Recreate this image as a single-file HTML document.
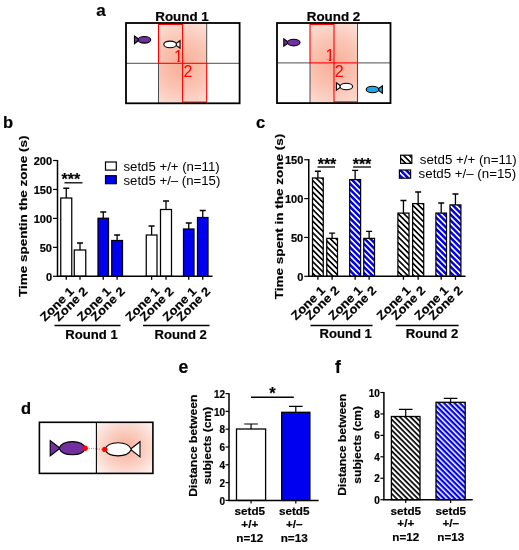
<!DOCTYPE html>
<html><head><meta charset="utf-8"><title>Figure</title>
<style>
html,body{margin:0;padding:0;background:#fff;}
svg{display:block;font-family:"Liberation Sans",Arial,sans-serif;}
.b{font-weight:bold;stroke:#000;stroke-width:0.2px;}
</style></head><body>
<svg width="519" height="550" viewBox="0 0 519 550">
<defs>
<radialGradient id="pink" cx="50%" cy="52%" r="60%" gradientTransform="translate(0.5,0.5) scale(1.66,1) translate(-0.5,-0.5)">
<stop offset="0" stop-color="#f8ad96"/><stop offset="0.5" stop-color="#fac3b2"/><stop offset="1" stop-color="#fde2da"/>
</radialGradient>
<radialGradient id="pinkd" cx="51%" cy="50%" r="68%">
<stop offset="0" stop-color="#f7ae98"/><stop offset="0.55" stop-color="#fbd2c6"/><stop offset="1" stop-color="#fef3ef"/>
</radialGradient>
<pattern id="hk" width="4.1" height="4.1" patternUnits="userSpaceOnUse" patternTransform="rotate(45)">
<rect width="4.1" height="4.1" fill="#fff"/><rect width="4.1" height="1.65" fill="#000"/>
</pattern>
<pattern id="hb" width="4.1" height="4.1" patternUnits="userSpaceOnUse" patternTransform="rotate(45)">
<rect width="4.1" height="4.1" fill="#fff"/><rect width="4.1" height="2.5" fill="#0000f5"/>
</pattern>
<pattern id="hk2" width="3.75" height="3.75" patternUnits="userSpaceOnUse" patternTransform="rotate(45)">
<rect width="3.75" height="3.75" fill="#fff"/><rect width="3.75" height="1.7" fill="#000"/>
</pattern>
<pattern id="hb2" width="3.75" height="3.75" patternUnits="userSpaceOnUse" patternTransform="rotate(45)">
<rect width="3.75" height="3.75" fill="#fff"/><rect width="3.75" height="2.25" fill="#0000f5"/>
</pattern>
<clipPath id="one"><path d="M-10,-14 H1 V-1.25 H-3.3 V1 H-5.4 V-1.25 H-10 Z"/></clipPath>
</defs>
<rect width="519" height="550" fill="#fff"/>

<text x="96.3" y="16.3" class="b" font-size="17">a</text>
<rect x="158.5" y="23" width="48.19999999999999" height="80.3" fill="url(#pink)"/>
<path d="M126,63.3 H158.5 M206.7,63.3 H239.6 M158.5,63.3 V103.3 M206.7,23 V63.3" stroke="#3a3a3a" stroke-width="0.9" fill="none"/>
<rect x="158.5" y="24.4" width="24.099999999999994" height="38.9" fill="none" stroke="#f00" stroke-width="1.1"/>
<rect x="182.6" y="63.3" width="24.099999999999994" height="38.8" fill="none" stroke="#f00" stroke-width="1.1"/>
<rect x="126" y="23" width="113.6" height="80.3" fill="none" stroke="#000" stroke-width="1.8"/>
<text transform="translate(182.90,61.60)" font-size="16" fill="#f00" text-anchor="end" clip-path="url(#one)">1</text>
<text transform="translate(183.40,77.10)" font-size="16" fill="#f00">2</text>
<text x="182" y="20.5" class="b" font-size="13.4" text-anchor="middle">Round 1</text>
<path d="M139.60,39.8 L134.50,36.10 L134.50,43.50 Z" fill="#7030a0" stroke="#000" stroke-width="1.15" stroke-linejoin="miter"/>
<ellipse cx="144.4" cy="39.8" rx="6.3" ry="3.3" fill="#7030a0" stroke="#000" stroke-width="1.15"/>
<path d="M174.90,44.4 L180.00,40.70 L180.00,48.10 Z" fill="#fff" stroke="#000" stroke-width="1.15" stroke-linejoin="miter"/>
<ellipse cx="170.1" cy="44.4" rx="6.3" ry="3.3" fill="#fff" stroke="#000" stroke-width="1.15"/>
<rect x="310" y="23" width="47.5" height="80.1" fill="url(#pink)"/>
<path d="M277,62.9 H310 M357.5,62.9 H390.5 M310,62.9 V103.1 M357.5,23 V62.9" stroke="#3a3a3a" stroke-width="0.9" fill="none"/>
<rect x="310" y="24.4" width="24" height="38.5" fill="none" stroke="#f00" stroke-width="1.1"/>
<rect x="334" y="62.9" width="23.5" height="38.99999999999999" fill="none" stroke="#f00" stroke-width="1.1"/>
<rect x="277" y="23" width="113.5" height="80.1" fill="none" stroke="#000" stroke-width="1.8"/>
<text transform="translate(334.30,61.20)" font-size="16" fill="#f00" text-anchor="end" clip-path="url(#one)">1</text>
<text transform="translate(334.80,76.70)" font-size="16" fill="#f00">2</text>
<text x="333.5" y="20.5" class="b" font-size="13.4" text-anchor="middle">Round 2</text>
<path d="M288.90,42.5 L283.80,38.80 L283.80,46.20 Z" fill="#7030a0" stroke="#000" stroke-width="1.15" stroke-linejoin="miter"/>
<ellipse cx="293.7" cy="42.5" rx="6.3" ry="3.3" fill="#7030a0" stroke="#000" stroke-width="1.15"/>
<path d="M341.50,86.5 L336.40,82.80 L336.40,90.20 Z" fill="#fff" stroke="#000" stroke-width="1.15" stroke-linejoin="miter"/>
<ellipse cx="346.3" cy="86.5" rx="6.3" ry="3.3" fill="#fff" stroke="#000" stroke-width="1.15"/>
<path d="M377.30,89.5 L382.40,85.80 L382.40,93.20 Z" fill="#1ca9e6" stroke="#000" stroke-width="1.15" stroke-linejoin="miter"/>
<ellipse cx="372.5" cy="89.5" rx="6.3" ry="3.3" fill="#1ca9e6" stroke="#000" stroke-width="1.15"/>
<text x="3" y="128" class="b" font-size="16.5">b</text>
<path d="M66.25,198.00 V188.25 M63.25,188.25 H69.25" stroke="#000" stroke-width="1.3" fill="none"/>
<rect x="60.75" y="198.00" width="11.00" height="78.30" fill="#fff" stroke="#000" stroke-width="1.25"/>
<line x1="66.25" y1="276.3" x2="66.25" y2="279.8" stroke="#000" stroke-width="1.3"/>
<path d="M80.00,250.00 V243.00 M77.00,243.00 H83.00" stroke="#000" stroke-width="1.3" fill="none"/>
<rect x="74.25" y="250.00" width="11.50" height="26.30" fill="#fff" stroke="#000" stroke-width="1.25"/>
<line x1="80.00" y1="276.3" x2="80.00" y2="279.8" stroke="#000" stroke-width="1.3"/>
<path d="M103.25,218.25 V212.00 M100.25,212.00 H106.25" stroke="#000" stroke-width="1.3" fill="none"/>
<rect x="98.00" y="218.25" width="10.50" height="58.05" fill="#0000f0" stroke="#000" stroke-width="1.25"/>
<line x1="103.25" y1="276.3" x2="103.25" y2="279.8" stroke="#000" stroke-width="1.3"/>
<path d="M117.12,240.50 V235.00 M114.12,235.00 H120.12" stroke="#000" stroke-width="1.3" fill="none"/>
<rect x="111.75" y="240.50" width="10.75" height="35.80" fill="#0000f0" stroke="#000" stroke-width="1.25"/>
<line x1="117.12" y1="276.3" x2="117.12" y2="279.8" stroke="#000" stroke-width="1.3"/>
<path d="M151.62,235.00 V226.00 M148.62,226.00 H154.62" stroke="#000" stroke-width="1.3" fill="none"/>
<rect x="146.25" y="235.00" width="10.75" height="41.30" fill="#fff" stroke="#000" stroke-width="1.25"/>
<line x1="151.62" y1="276.3" x2="151.62" y2="279.8" stroke="#000" stroke-width="1.3"/>
<path d="M166.00,209.50 V201.00 M163.00,201.00 H169.00" stroke="#000" stroke-width="1.3" fill="none"/>
<rect x="160.50" y="209.50" width="11.00" height="66.80" fill="#fff" stroke="#000" stroke-width="1.25"/>
<line x1="166.00" y1="276.3" x2="166.00" y2="279.8" stroke="#000" stroke-width="1.3"/>
<path d="M188.75,229.00 V223.00 M185.75,223.00 H191.75" stroke="#000" stroke-width="1.3" fill="none"/>
<rect x="183.50" y="229.00" width="10.50" height="47.30" fill="#0000f0" stroke="#000" stroke-width="1.25"/>
<line x1="188.75" y1="276.3" x2="188.75" y2="279.8" stroke="#000" stroke-width="1.3"/>
<path d="M202.75,217.50 V210.50 M199.75,210.50 H205.75" stroke="#000" stroke-width="1.3" fill="none"/>
<rect x="197.50" y="217.50" width="10.50" height="58.80" fill="#0000f0" stroke="#000" stroke-width="1.25"/>
<line x1="202.75" y1="276.3" x2="202.75" y2="279.8" stroke="#000" stroke-width="1.3"/>
<path d="M57.5,159.9 V276.3 H212.5" stroke="#000" stroke-width="1.5" fill="none"/>
<line x1="53.0" y1="276.30" x2="57.5" y2="276.30" stroke="#000" stroke-width="1.2"/>
<text x="52.0" y="280.55" class="b" font-size="11" text-anchor="end">0</text>
<line x1="53.0" y1="247.35" x2="57.5" y2="247.35" stroke="#000" stroke-width="1.2"/>
<text x="52.0" y="251.60" class="b" font-size="11" text-anchor="end">50</text>
<line x1="53.0" y1="218.40" x2="57.5" y2="218.40" stroke="#000" stroke-width="1.2"/>
<text x="52.0" y="222.65" class="b" font-size="11" text-anchor="end">100</text>
<line x1="53.0" y1="189.45" x2="57.5" y2="189.45" stroke="#000" stroke-width="1.2"/>
<text x="52.0" y="193.70" class="b" font-size="11" text-anchor="end">150</text>
<line x1="53.0" y1="160.50" x2="57.5" y2="160.50" stroke="#000" stroke-width="1.2"/>
<text x="52.0" y="164.75" class="b" font-size="11" text-anchor="end">200</text>
<text transform="translate(26.5,216.3) rotate(-90) scale(1,0.82)" class="b" font-size="13.5" text-anchor="middle">Time spentin the zone (s)</text>
<line x1="64.5" y1="182.8" x2="82.5" y2="182.8" stroke="#000" stroke-width="1.3"/>
<text x="70.9" y="185.3" class="b" font-size="16" text-anchor="middle">***</text>
<rect x="105.5" y="162" width="10.8" height="8.1" fill="#fff" stroke="#000" stroke-width="1.2"/>
<rect x="105.5" y="175.7" width="10.8" height="8.0" fill="#0000f0" stroke="#000" stroke-width="1.2"/>
<text x="123.5" y="170.7" font-size="13.2">setd5 +/+ (n=11)</text>
<text x="123.5" y="184.7" font-size="13.2">setd5 +/– (n=15)</text>
<text transform="translate(74.75,292.20) rotate(-45) scale(1,0.92)" class="b" font-size="13.1" text-anchor="end">Zone 1</text>
<text transform="translate(88.50,292.20) rotate(-45) scale(1,0.92)" class="b" font-size="13.1" text-anchor="end">Zone 2</text>
<text transform="translate(111.75,292.20) rotate(-45) scale(1,0.92)" class="b" font-size="13.1" text-anchor="end">Zone 1</text>
<text transform="translate(125.62,292.20) rotate(-45) scale(1,0.92)" class="b" font-size="13.1" text-anchor="end">Zone 2</text>
<text transform="translate(160.12,292.20) rotate(-45) scale(1,0.92)" class="b" font-size="13.1" text-anchor="end">Zone 1</text>
<text transform="translate(174.50,292.20) rotate(-45) scale(1,0.92)" class="b" font-size="13.1" text-anchor="end">Zone 2</text>
<text transform="translate(197.25,292.20) rotate(-45) scale(1,0.92)" class="b" font-size="13.1" text-anchor="end">Zone 1</text>
<text transform="translate(211.25,292.20) rotate(-45) scale(1,0.92)" class="b" font-size="13.1" text-anchor="end">Zone 2</text>
<line x1="54.5" y1="325.5" x2="120.5" y2="325.5" stroke="#000" stroke-width="1.3"/>
<line x1="143" y1="325.5" x2="209.5" y2="325.5" stroke="#000" stroke-width="1.3"/>
<text transform="translate(91.5,339.4) scale(1,0.92)" class="b" font-size="13.1" text-anchor="middle">Round 1</text>
<text transform="translate(180.7,339.4) scale(1,0.92)" class="b" font-size="13.1" text-anchor="middle">Round 2</text>
<text x="256" y="127.5" class="b" font-size="16.5">c</text>
<path d="M317.88,178.00 V171.25 M314.88,171.25 H320.88" stroke="#000" stroke-width="1.3" fill="none"/>
<rect x="312.50" y="178.00" width="10.75" height="98.30" fill="url(#hk)" stroke="#000" stroke-width="1.25"/>
<line x1="317.88" y1="276.3" x2="317.88" y2="279.8" stroke="#000" stroke-width="1.3"/>
<path d="M332.12,238.40 V233.20 M329.12,233.20 H335.12" stroke="#000" stroke-width="1.3" fill="none"/>
<rect x="326.75" y="238.40" width="10.75" height="37.90" fill="url(#hk)" stroke="#000" stroke-width="1.25"/>
<line x1="332.12" y1="276.3" x2="332.12" y2="279.8" stroke="#000" stroke-width="1.3"/>
<path d="M355.15,179.60 V170.40 M352.15,170.40 H358.15" stroke="#000" stroke-width="1.3" fill="none"/>
<rect x="349.70" y="179.60" width="10.90" height="96.70" fill="url(#hb)" stroke="#000" stroke-width="1.25"/>
<line x1="355.15" y1="276.3" x2="355.15" y2="279.8" stroke="#000" stroke-width="1.3"/>
<path d="M369.12,238.40 V231.40 M366.12,231.40 H372.12" stroke="#000" stroke-width="1.3" fill="none"/>
<rect x="363.75" y="238.40" width="10.75" height="37.90" fill="url(#hb)" stroke="#000" stroke-width="1.25"/>
<line x1="369.12" y1="276.3" x2="369.12" y2="279.8" stroke="#000" stroke-width="1.3"/>
<path d="M403.45,213.10 V200.50 M400.45,200.50 H406.45" stroke="#000" stroke-width="1.3" fill="none"/>
<rect x="397.90" y="213.10" width="11.10" height="63.20" fill="url(#hk)" stroke="#000" stroke-width="1.25"/>
<line x1="403.45" y1="276.3" x2="403.45" y2="279.8" stroke="#000" stroke-width="1.3"/>
<path d="M418.15,203.60 V192.00 M415.15,192.00 H421.15" stroke="#000" stroke-width="1.3" fill="none"/>
<rect x="412.60" y="203.60" width="11.10" height="72.70" fill="url(#hk)" stroke="#000" stroke-width="1.25"/>
<line x1="418.15" y1="276.3" x2="418.15" y2="279.8" stroke="#000" stroke-width="1.3"/>
<path d="M441.20,213.10 V203.00 M438.20,203.00 H444.20" stroke="#000" stroke-width="1.3" fill="none"/>
<rect x="435.90" y="213.10" width="10.60" height="63.20" fill="url(#hb)" stroke="#000" stroke-width="1.25"/>
<line x1="441.20" y1="276.3" x2="441.20" y2="279.8" stroke="#000" stroke-width="1.3"/>
<path d="M455.45,204.90 V194.00 M452.45,194.00 H458.45" stroke="#000" stroke-width="1.3" fill="none"/>
<rect x="450.00" y="204.90" width="10.90" height="71.40" fill="url(#hb)" stroke="#000" stroke-width="1.25"/>
<line x1="455.45" y1="276.3" x2="455.45" y2="279.8" stroke="#000" stroke-width="1.3"/>
<path d="M308.75,159 V276.3 H465.5" stroke="#000" stroke-width="1.5" fill="none"/>
<line x1="304.25" y1="276.30" x2="308.75" y2="276.30" stroke="#000" stroke-width="1.2"/>
<text x="303.25" y="280.55" class="b" font-size="11" text-anchor="end">0</text>
<line x1="304.25" y1="237.45" x2="308.75" y2="237.45" stroke="#000" stroke-width="1.2"/>
<text x="303.25" y="241.70" class="b" font-size="11" text-anchor="end">50</text>
<line x1="304.25" y1="198.60" x2="308.75" y2="198.60" stroke="#000" stroke-width="1.2"/>
<text x="303.25" y="202.85" class="b" font-size="11" text-anchor="end">100</text>
<line x1="304.25" y1="159.75" x2="308.75" y2="159.75" stroke="#000" stroke-width="1.2"/>
<text x="303.25" y="164.00" class="b" font-size="11" text-anchor="end">150</text>
<text transform="translate(283.3,216.5) rotate(-90) scale(1,0.82)" class="b" font-size="13.5" text-anchor="middle">Time spent in the zone (s)</text>
<line x1="317.5" y1="167" x2="335" y2="167" stroke="#000" stroke-width="1.3"/>
<text x="327" y="169.8" class="b" font-size="16" text-anchor="middle">***</text>
<line x1="353" y1="167" x2="371" y2="167" stroke="#000" stroke-width="1.3"/>
<text x="362" y="169.8" class="b" font-size="16" text-anchor="middle">***</text>
<rect x="400.6" y="155.2" width="11.2" height="8.2" fill="url(#hk)" stroke="#000" stroke-width="1.2"/>
<rect x="399.4" y="170" width="11.2" height="8.2" fill="url(#hb)" stroke="#000" stroke-width="1.2"/>
<text x="419.8" y="163.6" font-size="13.3">setd5 +/+ (n=11)</text>
<text x="418.6" y="178.4" font-size="13.3">setd5 +/– (n=15)</text>
<text transform="translate(325.88,291.00) rotate(-45) scale(1,0.92)" class="b" font-size="13.1" text-anchor="end">Zone 1</text>
<text transform="translate(340.12,291.00) rotate(-45) scale(1,0.92)" class="b" font-size="13.1" text-anchor="end">Zone 2</text>
<text transform="translate(363.15,291.00) rotate(-45) scale(1,0.92)" class="b" font-size="13.1" text-anchor="end">Zone 1</text>
<text transform="translate(377.12,291.00) rotate(-45) scale(1,0.92)" class="b" font-size="13.1" text-anchor="end">Zone 2</text>
<text transform="translate(411.45,291.00) rotate(-45) scale(1,0.92)" class="b" font-size="13.1" text-anchor="end">Zone 1</text>
<text transform="translate(426.15,291.00) rotate(-45) scale(1,0.92)" class="b" font-size="13.1" text-anchor="end">Zone 2</text>
<text transform="translate(449.20,291.00) rotate(-45) scale(1,0.92)" class="b" font-size="13.1" text-anchor="end">Zone 1</text>
<text transform="translate(463.45,291.00) rotate(-45) scale(1,0.92)" class="b" font-size="13.1" text-anchor="end">Zone 2</text>
<line x1="310.5" y1="325.5" x2="372.5" y2="325.5" stroke="#000" stroke-width="1.3"/>
<line x1="395.8" y1="325.5" x2="458.6" y2="325.5" stroke="#000" stroke-width="1.3"/>
<text transform="translate(345.7,337.5) scale(1,0.92)" class="b" font-size="13.1" text-anchor="middle">Round 1</text>
<text transform="translate(432,337.5) scale(1,0.92)" class="b" font-size="13.1" text-anchor="middle">Round 2</text>
<text x="21" y="414" class="b" font-size="16.5">d</text>
<rect x="96.4" y="422.3" width="56.5" height="51.1" fill="url(#pinkd)"/>
<rect x="39.4" y="422.3" width="113.5" height="51.1" fill="none" stroke="#000" stroke-width="1.6"/>
<line x1="96.4" y1="422.3" x2="96.4" y2="473.4" stroke="#000" stroke-width="1.1"/>
<path d="M60.10,448.2 L50.20,440.60 L50.20,455.80 Z" fill="#7030a0" stroke="#000" stroke-width="1.1" stroke-linejoin="miter"/>
<path d="M59.10,448.2 C62.81,439.40 81.89,439.40 85.60,448.2 C81.89,457.00 62.81,457.00 59.10,448.2 Z" fill="#7030a0" stroke="#000" stroke-width="1.1" stroke-linejoin="round"/>
<path d="M130.30,449.3 L140.00,441.70 L140.00,456.90 Z" fill="#fff" stroke="#000" stroke-width="1.1" stroke-linejoin="miter"/>
<path d="M104.80,449.3 C108.51,440.50 127.59,440.50 131.30,449.3 C127.59,458.10 108.51,458.10 104.80,449.3 Z" fill="#fff" stroke="#000" stroke-width="1.1" stroke-linejoin="round"/>
<line x1="85.1" y1="448.2" x2="104.8" y2="449.4" stroke="#f55" stroke-width="0.9" stroke-dasharray="1,1"/>
<circle cx="85.1" cy="448.2" r="2.7" fill="#f00"/>
<circle cx="104.8" cy="449.4" r="2.7" fill="#f00"/>
<text x="178.5" y="373" class="b" font-size="17.5">e</text>
<path d="M251.05,429.00 V424.00 M244.25,424.00 H257.85" stroke="#000" stroke-width="1.2" fill="none"/>
<rect x="236.50" y="429.00" width="29.10" height="71.40" fill="#fff" stroke="#000" stroke-width="1.3"/>
<line x1="251.05" y1="500.4" x2="251.05" y2="503.59999999999997" stroke="#000" stroke-width="1.2"/>
<path d="M295.80,412.30 V406.30 M289.00,406.30 H302.60" stroke="#000" stroke-width="1.2" fill="none"/>
<rect x="281.70" y="412.30" width="28.20" height="88.10" fill="#0000f0" stroke="#000" stroke-width="1.3"/>
<line x1="295.80" y1="500.4" x2="295.80" y2="503.59999999999997" stroke="#000" stroke-width="1.2"/>
<path d="M229,393.2 V500.4 H318.6" stroke="#000" stroke-width="1.5" fill="none"/>
<line x1="225.5" y1="500.40" x2="229" y2="500.40" stroke="#000" stroke-width="1.2"/>
<text x="225.0" y="504.50" class="b" font-size="10" text-anchor="end">0</text>
<line x1="225.5" y1="482.60" x2="229" y2="482.60" stroke="#000" stroke-width="1.2"/>
<text x="225.0" y="486.70" class="b" font-size="10" text-anchor="end">2</text>
<line x1="225.5" y1="464.80" x2="229" y2="464.80" stroke="#000" stroke-width="1.2"/>
<text x="225.0" y="468.90" class="b" font-size="10" text-anchor="end">4</text>
<line x1="225.5" y1="447.00" x2="229" y2="447.00" stroke="#000" stroke-width="1.2"/>
<text x="225.0" y="451.10" class="b" font-size="10" text-anchor="end">6</text>
<line x1="225.5" y1="429.20" x2="229" y2="429.20" stroke="#000" stroke-width="1.2"/>
<text x="225.0" y="433.30" class="b" font-size="10" text-anchor="end">8</text>
<line x1="225.5" y1="411.40" x2="229" y2="411.40" stroke="#000" stroke-width="1.2"/>
<text x="225.0" y="415.50" class="b" font-size="10" text-anchor="end">10</text>
<line x1="225.5" y1="393.60" x2="229" y2="393.60" stroke="#000" stroke-width="1.2"/>
<text x="225.0" y="397.70" class="b" font-size="10" text-anchor="end">12</text>
<text transform="translate(249.8,515.4) scale(1,0.96)" class="b" font-size="11.7" text-anchor="middle">setd5</text>
<text transform="translate(249.8,528.0) scale(1,0.96)" class="b" font-size="11.7" text-anchor="middle">+/+</text>
<text transform="translate(249.8,542.0) scale(1,0.96)" class="b" font-size="11.7" text-anchor="middle">n=12</text>
<text transform="translate(294.2,515.4) scale(1,0.96)" class="b" font-size="11.7" text-anchor="middle">setd5</text>
<text transform="translate(294.2,528.0) scale(1,0.96)" class="b" font-size="11.7" text-anchor="middle">+/–</text>
<text transform="translate(294.2,542.0) scale(1,0.96)" class="b" font-size="11.7" text-anchor="middle">n=13</text>
<text transform="translate(197,445.7) rotate(-90) scale(1,0.88)" class="b" font-size="12.1" text-anchor="middle">Distance between</text>
<text transform="translate(211,445.7) rotate(-90) scale(1,0.88)" class="b" font-size="12.1" text-anchor="middle">subjects (cm)</text>
<line x1="251" y1="397.2" x2="293.8" y2="397.2" stroke="#000" stroke-width="1.5"/>
<text x="272.5" y="399" class="b" font-size="16.5" text-anchor="middle">*</text>
<text x="335" y="373" class="b" font-size="17.5">f</text>
<path d="M405.70,416.50 V409.30 M398.90,409.30 H412.50" stroke="#000" stroke-width="1.2" fill="none"/>
<rect x="391.40" y="416.50" width="28.60" height="83.20" fill="url(#hk2)" stroke="#000" stroke-width="1.3"/>
<line x1="405.70" y1="499.7" x2="405.70" y2="502.9" stroke="#000" stroke-width="1.2"/>
<path d="M450.60,402.30 V398.30 M443.80,398.30 H457.40" stroke="#000" stroke-width="1.2" fill="none"/>
<rect x="436.00" y="402.30" width="29.20" height="97.40" fill="url(#hb2)" stroke="#000" stroke-width="1.3"/>
<line x1="450.60" y1="499.7" x2="450.60" y2="502.9" stroke="#000" stroke-width="1.2"/>
<path d="M383.9,391.9 V499.7 H472.7" stroke="#000" stroke-width="1.5" fill="none"/>
<line x1="380.4" y1="499.70" x2="383.9" y2="499.70" stroke="#000" stroke-width="1.2"/>
<text x="379.9" y="503.80" class="b" font-size="10" text-anchor="end">0</text>
<line x1="380.4" y1="478.26" x2="383.9" y2="478.26" stroke="#000" stroke-width="1.2"/>
<text x="379.9" y="482.36" class="b" font-size="10" text-anchor="end">2</text>
<line x1="380.4" y1="456.82" x2="383.9" y2="456.82" stroke="#000" stroke-width="1.2"/>
<text x="379.9" y="460.92" class="b" font-size="10" text-anchor="end">4</text>
<line x1="380.4" y1="435.38" x2="383.9" y2="435.38" stroke="#000" stroke-width="1.2"/>
<text x="379.9" y="439.48" class="b" font-size="10" text-anchor="end">6</text>
<line x1="380.4" y1="413.94" x2="383.9" y2="413.94" stroke="#000" stroke-width="1.2"/>
<text x="379.9" y="418.04" class="b" font-size="10" text-anchor="end">8</text>
<line x1="380.4" y1="392.50" x2="383.9" y2="392.50" stroke="#000" stroke-width="1.2"/>
<text x="379.9" y="396.60" class="b" font-size="10" text-anchor="end">10</text>
<text transform="translate(405.8,514.7) scale(1,0.96)" class="b" font-size="11.7" text-anchor="middle">setd5</text>
<text transform="translate(405.8,527.3) scale(1,0.96)" class="b" font-size="11.7" text-anchor="middle">+/+</text>
<text transform="translate(405.8,541.3) scale(1,0.96)" class="b" font-size="11.7" text-anchor="middle">n=12</text>
<text transform="translate(450.8,514.7) scale(1,0.96)" class="b" font-size="11.7" text-anchor="middle">setd5</text>
<text transform="translate(450.8,527.3) scale(1,0.96)" class="b" font-size="11.7" text-anchor="middle">+/–</text>
<text transform="translate(450.8,541.3) scale(1,0.96)" class="b" font-size="11.7" text-anchor="middle">n=13</text>
<text transform="translate(345.9,444.8) rotate(-90) scale(1,0.88)" class="b" font-size="12.1" text-anchor="middle">Distance between</text>
<text transform="translate(360.9,444.8) rotate(-90) scale(1,0.88)" class="b" font-size="12.1" text-anchor="middle">subjects (cm)</text>
</svg></body></html>
